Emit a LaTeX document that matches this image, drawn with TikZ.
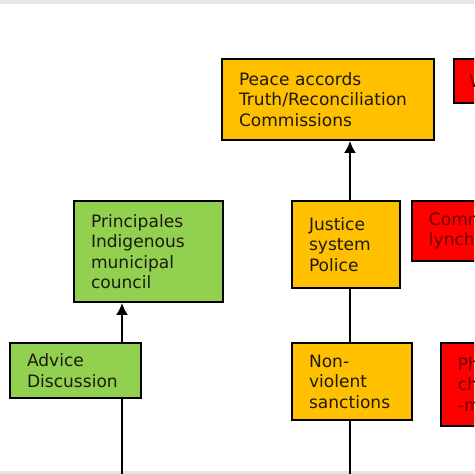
\documentclass[tikz,border=0pt]{standalone}
\usepackage{fontspec}
\setmainfont{DejaVu Sans}
\usepackage{xcolor}
\usetikzlibrary{arrows.meta}
\usetikzlibrary{calc}
\definecolor{levelgreen}{HTML}{92D050}
\definecolor{levelamber}{HTML}{FFC000}
\definecolor{levelred}{HTML}{FF0000}
\definecolor{inkdark}{HTML}{1E1A10}
\definecolor{inkred}{HTML}{6E0000}
\definecolor{bandgrey}{HTML}{E6E6E6}
\tikzset{
  stage/.style={draw=black, line width=1.4pt, align=left, inner xsep=12.75pt, inner ysep=0pt,
    font=\fontsize{12.8pt}{15.4pt}\selectfont, text=inkdark},
  greenbox/.style={stage, fill=levelgreen},
  amberbox/.style={stage, fill=levelamber},
  redbox/.style={stage, fill=levelred, text=inkred, anchor=west},
  link/.style={line width=1.5pt},
  uparrow/.style={link, -{Latex[length=9pt,width=9pt]}}
}
\begin{document}
\begin{tikzpicture}[x=0.75pt,y=-0.75pt]
  \useasboundingbox (0,0) rectangle (474,474);
  \clip (0,0) rectangle (474,474);
  \fill[bandgrey] (0,0) rectangle (474,4);
  \fill[bandgrey] (0,471) rectangle (474,474);

  % left column
  \node[greenbox, minimum width=111.75pt, minimum height=75.75pt, text width=86.25pt] (princ) at (148.5,251.5) {Principales\\Indigenous\\municipal\\council};
  \node[greenbox, minimum width=98.25pt, minimum height=41.25pt, text width=72.75pt] (advice) at (75.5,370.5) {Advice\\Discussion};

  % middle column
  \node[amberbox, minimum width=159pt, minimum height=60.75pt, text width=133.5pt] (peace) at (328,99.5) {Peace accords\\Truth/Reconciliation\\Commissions};
  \node[amberbox, minimum width=81pt, minimum height=65.25pt, text width=55.5pt] (justice) at (346,244.5) {Justice\\system\\Police};
  \node[amberbox, minimum width=90pt, minimum height=57.75pt, text width=64.5pt] (nonviol) at (352,381.5) {Non-\\violent\\sanctions};

  % right column (cut off by the frame)
  \node[redbox, minimum width=110pt, minimum height=33pt, text width=87pt, inner xsep=11.25pt] (war) at (453,81) {War};
  \node[redbox, minimum width=110pt, minimum height=45pt, text width=84.5pt] (lynch) at (411,231) {Community\\lynching};
  \node[redbox, minimum width=110pt, minimum height=62.25pt, text width=84.5pt] (phys) at (440,384.5) {Physical\\chastise\\-ment};

  % connectors
  \coordinate (startleft) at (122,474);
  \coordinate (startmid) at (350,474);
  \draw[link] (startleft) -- (startleft |- advice.south);
  \draw[uparrow] (startleft |- advice.north) -- (startleft |- princ.south);
  \draw[link] (startmid) -- (startmid |- nonviol.south);
  \draw[link] (startmid |- nonviol.north) -- (startmid |- justice.south);
  \draw[uparrow] (startmid |- justice.north) -- (startmid |- peace.south);
\end{tikzpicture}
\end{document}
